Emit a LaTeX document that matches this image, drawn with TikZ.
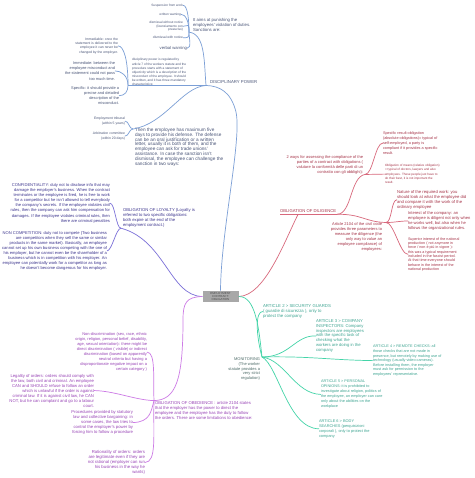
\documentclass[tikz,border=0pt]{standalone}
\usepackage{fontspec}
\setmainfont{Liberation Sans}
\usetikzlibrary{calc}
\definecolor{bluetxt}{HTML}{4A5578}
\definecolor{blueln}{HTML}{7C9FD6}
\definecolor{loytxt}{HTML}{3C358E}
\definecolor{loyln}{HTML}{7A6FD8}
\definecolor{redtxt}{HTML}{A63348}
\definecolor{redln}{HTML}{D8687C}
\definecolor{teatxt}{HTML}{3FA592}
\definecolor{montxt}{HTML}{4D6B68}
\definecolor{tealn}{HTML}{44D4A8}
\definecolor{viotxt}{HTML}{9844B6}
\definecolor{violn}{HTML}{CD7BE6}
\definecolor{boxgray}{HTML}{A8A8A8}
\newcommand\fz[2]{\fontsize{#1}{#2}\selectfont}
\begin{document}
\begin{tikzpicture}[x=1pt,y=-1pt,
  tx/.style={inner sep=0pt,outer sep=0pt},
  rt/.style={tx,anchor=north east,align=right},
  lt/.style={tx,anchor=north west,align=left},
  bl/.style={draw=blueln,line width=0.7pt},
  lo/.style={draw=loyln,line width=0.7pt},
  rd/.style={draw=redln,line width=0.7pt},
  te/.style={draw=tealn,line width=0.7pt},
  vi/.style={draw=violn,line width=0.7pt}]
\useasboundingbox (0,0) rectangle (474,478);
\fill[white] (0,0) rectangle (474,478);

% ---------- root
\node[fill=boxgray,text=black!70,minimum width=36pt,minimum height=11.5pt,inner sep=0pt,align=center,font=\fz{2.9}{3.4}] (root) at (220.5,296.5) {EMPLOYMENT\\CONTRACT:\\OBLIGATION};

% ---------- disciplinary power (blue)
\begin{scope}[text=bluetxt]
\node[lt,font=\fz{4.3}{5}] (dp) at (210,80.4) {DISCIPLINARY POWER};
\node[lt,font=\fz{4.3}{4.8}] (aims) at (193,18.4) {It aims at punishing the\\employees' violation of duties.\\Sanctions are:};
\node[rt,font=\fz{3.2}{4}] (s1) at (183,3.8) {Suspension from work};
\node[rt,font=\fz{3.2}{4}] (s2) at (181,12.8) {written warning};
\node[rt,font=\fz{3.2}{3.8}] (s3) at (183,21) {dismissal without notice\\(licenziamento con\\preavviso)};
\node[rt,font=\fz{3.3}{4}] (s4) at (183,36.5) {dismissal with notice};
\node[rt,font=\fz{4.2}{5}] (s5) at (187,46.3) {verbal warning};
\node[lt,font=\fz{3.2}{4.1}] (reg) at (132,58.6) {disciplinary power is regulated by\\article 7 of the workers statute and the\\procedure starts with a statement of\\objectivity which is a description of the\\misconduct of the employee. It should\\be written, and it has three mandatory\\characteristics:};
\node[rt,font=\fz{3.4}{4.4}] (immb) at (118,37.7) {Immediable: once the\\statement is delivered to the\\employee it can never be\\changed by the employer.};
\node[rt,font=\fz{3.9}{5.3}] (imm) at (115,61.5) {Immediate: between the\\employee misconduct and\\the statement could not pass\\too much time.};
\node[rt,font=\fz{3.9}{5.2}] (spec) at (119,86.5) {Specific: it should provide a\\precise and detailed\\description of the\\misconduct.};
\node[lt,font=\fz{4.7}{4.8}] (then) at (135,128) {Then the employee has maximum five\\days to provide his defense. The defense\\can be an oral justification or a written\\letter, usually it is both of them, and the\\employee can ask for trade unions'\\assistance. In case the sanction isn't\\dismissal, the employee can challenge the\\sanction in two ways:};
\node[rt,font=\fz{3.4}{5}] (trib) at (125,117) {Employment tribunal\\(within 5 years)};
\node[rt,font=\fz{3.4}{5}] (arb) at (125,132) {Arbitration committee\\(within 20 days)};
\end{scope}
\coordinate (dphub) at ($(dp.south west)+(-4,2)$);
\coordinate (aimshub) at ($(aims.south west)+(-4,1)$);
\coordinate (reghub) at ($(reg.west |- dphub)+(-4,0)$);
\coordinate (thenhub) at ($(then.north west)+(-2,1)$);
\draw[bl] (root.north) .. controls (221,230) and (242,140) .. (236,112) .. controls (231,92) and (220,86) .. (dphub);
\draw[bl] (dphub) .. controls (182,87) and (165,124) .. (thenhub);
\draw[bl] (dphub) -- (reghub);
\draw[bl] (dphub) .. controls (204,60) and (205,34) .. (aimshub);
\foreach \n in {s1,s2,s3}{\draw[bl] (aimshub) .. controls +(0,-10) and +(5,0) .. (\n.east);}
\foreach \n in {s4,s5}{\draw[bl] (aimshub) .. controls +(0,6) and +(5,0) .. (\n.east);}
\draw[bl] (reghub) .. controls +(0,-25) and +(6,0) .. (immb.east);
\draw[bl] (reghub) .. controls +(0,-10) and +(6,0) .. (imm.east);
\draw[bl] (reghub) .. controls +(0,6) and +(6,0) .. (spec.east);
\draw[bl] (thenhub) .. controls +(-4,0) and +(4,0) .. (trib.east);
\draw[bl] (thenhub) .. controls +(-4,0) and +(4,0) .. (arb.east);

% ---------- loyalty (indigo)
\begin{scope}[text=loytxt]
\node[lt,font=\fz{4.2}{5}] (loy) at (123,208.3) {OBLIGATION OF LOYALTY (Loyalty is\\referred to two specific obligations:\\both expire at the end of the\\employment contract.)};
\node[rt,font=\fz{4.1}{5.1}] (conf) at (110,183.5) {CONFIDENTIALITY: duty not to disclose info that may\\damage the employer's business. When the contract\\terminates or the employee is fired, he is free to work\\for a competitor but he isn't allowed to tell everybody\\the company's secrets. If the employee violates civil\\rules, then the company can ask him compensation for\\damages. If the employee violates criminal rules, then\\there are criminal penalties};
\node[rt,font=\fz{4.1}{5}] (ncomp) at (107,231.5) {NON COMPETITION: duty not to compete (Two business\\are competitors when they sell the same or similar\\products in the same market). Basically, an employee\\cannot set up his own business competing with the one of\\his employer, but he cannot even be the shareholder of a\\business which is in competition with his employer. An\\employee can potentially work for a competitor as long as\\he doesn't become dangerous for his employer.};
\end{scope}
\coordinate (loyhub) at ($(loy.south west)+(-2,1)$);
\draw[lo] (root.west) .. controls (170,296) and (165,240) .. (loyhub);
\draw[lo] (loyhub) .. controls +(-5,0) and +(5,0) .. (conf.east);
\draw[lo] (loyhub) .. controls +(-5,0) and +(5,0) .. (ncomp.east);

% ---------- diligence (red)
\begin{scope}[text=redtxt]
\node[lt,font=\fz{4.2}{5}] (dil) at (280,209.3) {OBLIGATION OF DILIGENCE};
\node[rt,font=\fz{4.0}{4.9}] (ways) at (363,156) {2 ways for assessing the compliance of the\\parties of a contract with obligations (\\valutare la conformità delle parti di un\\contratto con gli obblighi):};
\node[lt,font=\fz{3.8}{5}] (sres) at (383,131.6) {Specific result obligation\\(absolute obligations)= typical of\\self-employed, a party is\\compliant if it provides a specific\\result.};
\node[lt,font=\fz{3.1}{4.25}] (means) at (385,164.5) {Obligation of means (relative obligation)\\= typical of doctors, lawyers and also\\employees. These people just have to\\do their best, it is not important the\\result.};
\node[rt,font=\fz{4.0}{5}] (art) at (382,222.5) {Article 2104 of the civil code\\provides three parameters to\\measure the diligence (the\\only way to value an\\employee compliance) of\\employees:};
\node[lt,font=\fz{4.2}{4.8}] (nat) at (397,190.6) {Nature of the required work: you\\should look at what the employee did\\and compare it with the work of the\\ordinary employee};
\node[lt,font=\fz{4.1}{5}] (intr) at (408,211.6) {Interest of the company: an\\employee is diligent not only when\\he works well, but also when he\\follows the organizational rules.};
\node[lt,font=\fz{3.7}{4.35}] (sup) at (408,237.4) {Superior interest of the national\\production ( not anymore in\\force / non è più in vigore ):\\this was a typical requirement\\included in the fascist period.\\At that time everyone should\\behave in the interest of the\\national production};
\end{scope}
\coordinate (dilhub) at ($(dil.south east)+(1,2)$);
\coordinate (wayshub) at ($(ways.south east)+(2,0)$);
\coordinate (arthub) at ($(art.north east)+(4,0)$);
\draw[rd] (root.east) .. controls (265,296) and (285,240) .. (298,214.5);
\draw[rd] ($(dil.south west)+(0,2)$) -- (dilhub);
\draw[rd] (dilhub) .. controls (352,214) and (350,177) .. (wayshub);
\draw[rd] (wayshub) .. controls +(8,0) and +(-8,0) .. (sres.west);
\draw[rd] (wayshub) .. controls +(8,0) and +(-8,0) .. (means.west);
\draw[rd] (dilhub) .. controls (362,214) and (365,222) .. (arthub);
\draw[rd] (arthub) .. controls +(6,0) and +(-6,0) .. (nat.west);
\draw[rd] (arthub) .. controls +(10,0) and +(-10,0) .. (intr.west);
\draw[rd] (arthub) .. controls +(8,0) and +(-8,0) .. (sup.west);

% ---------- monitoring (teal)
\node[rt,font=\fz{4.0}{4.7},text=montxt] (mon) at (260,358) {MONITORING\\(The worker\\statute provides a\\very strict\\regulation)};
\begin{scope}[text=teatxt]
\node[lt,font=\fz{4.3}{5}] (a2) at (263,304.5) {ARTICLE 2 > SECURITY GUARDS\\( guardie di sicurezza ), only to\\protect the company};
\node[lt,font=\fz{4.2}{4.8}] (a3) at (316,319.6) {ARTICLE 3 > COMPANY\\INSPECTORS: Company\\inspectors are employees\\with the specific task of\\checking what the\\workers are doing in the\\company};
\node[lt,font=\fz{3.8}{4.55}] (a4) at (373,345.2) {ARTICLE 4 > REMOTE CHECKS: all\\those checks that are not made in\\presence, but remotely by making use of\\technology (usually video cameras).\\Before installing them, the employer\\must ask for permission to the\\employees' representative.};
\node[lt,font=\fz{3.8}{5}] (a5) at (321,380.2) {ARTICLE 5 > PERSONAL\\OPINIONS: it is prohibited to\\investigate about religion, politics of\\the employee, an employer can care\\only about the abilities on the\\workplace};
\node[lt,font=\fz{3.9}{5}] (a6) at (319,419.5) {ARTICLE 6 > BODY\\SEARCHES (perquisizioni\\corporali ), only to protect the\\company};
\end{scope}
\coordinate (monhub) at ($(mon.north east)+(2,-1)$);
\draw[te] (root.east) .. controls (256,296) and (259,330) .. (monhub);
\draw[te] (monhub) .. controls (256,335) and (255,311) .. (a2.west);
\draw[te] (monhub) .. controls (290,357) and (295,335) .. (a3.west);
\draw[te] (monhub) .. controls (310,356) and (330,360) .. (a4.west);
\draw[te] (monhub) .. controls (285,360) and (295,394) .. (a5.west);
\draw[te] (monhub) .. controls (278,365) and (288,429) .. (a6.west);

% ---------- obedience (violet)
\begin{scope}[text=viotxt]
\node[lt,font=\fz{4.2}{4.85}] (obed) at (155,401.6) {OBLIGATION OF OBEDIENCE : article 2104 states\\that the employer has the power to direct the\\employee and the employee has the duty to follow\\the orders. There are some limitations to obedience:};
\node[rt,font=\fz{4.0}{5.05}] (ndisc) at (147,332.6) {Non-discrimination (sex, race, ethnic\\origin, religion, personal belief, disability,\\age, sexual orientation): there might be\\direct discrimination ( visible) or indirect\\discrimination (based on apparently\\neutral criteria but having a\\disproportionate negative impact on a\\certain category )};
\node[rt,font=\fz{4.2}{5}] (legal) at (94,374) {Legality of orders: orders should comply with\\the law, both civil and criminal. An employee\\CAN and SHOULD refuse to follow an order\\which is unlawful if the order is against\\criminal law. If it is against civil law, he CAN\\NOT, but he can complaint and go to a labour\\court.};
\node[rt,font=\fz{4.2}{5}] (proc) at (133,410.6) {Procedures provided by statutory\\law and collective bargaining: in\\some cases, the law tries to\\control the employer's power by\\forcing him to follow a procedure};
\node[rt,font=\fz{4.3}{5}] (rat) at (145,450.5) {Rationality of orders: orders\\are legitimate even if they are\\not rational (employer can run\\his business in the way he\\wants)};
\end{scope}
\coordinate (obhub) at ($(obed.north west)+(-1,-1)$);
\draw[vi] (root.west) .. controls (186,297) and (183,303) .. (183,320) .. controls (183,380) and (176,400) .. (obhub);
\draw[vi] (obhub) .. controls (153,380) and (156,352) .. (ndisc.east);
\draw[vi] (obhub) .. controls (135,400) and (115,391) .. (legal.east);
\draw[vi] (obhub) .. controls (151,412) and (150,422) .. (proc.east);
\draw[vi] (obhub) .. controls (153,435) and (157,462) .. (rat.east);
\end{tikzpicture}
\end{document}
